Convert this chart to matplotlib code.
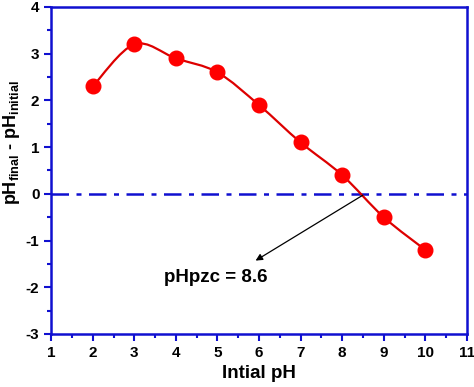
import numpy as np
import matplotlib
matplotlib.use('Agg')
import matplotlib.pyplot as plt
from matplotlib.path import Path
import matplotlib.patches as patches

plt.rcParams['font.family'] = ['Liberation Sans', 'DejaVu Sans']
plt.rcParams['font.weight'] = 'bold'
plt.rcParams['axes.unicode_minus'] = False
plt.rcParams['mathtext.fontset'] = 'custom'
plt.rcParams['mathtext.rm'] = 'Liberation Sans:bold'
plt.rcParams['mathtext.it'] = 'Liberation Sans:bold'
plt.rcParams['mathtext.bf'] = 'Liberation Sans:bold'

ph_initial = [2, 3, 4, 5, 6, 7, 8, 9, 10]
delta_ph = [2.3, 3.2, 2.9, 2.6, 1.9, 1.1, 0.4, -0.5, -1.2]
xticks = [1, 2, 3, 4, 5, 6, 7, 8, 9, 10, 11]
yticks = [-3, -2, -1, 0, 1, 2, 3, 4]

blue = '#1010d0'

fig = plt.figure(figsize=(4.74, 3.87), dpi=100)
ax = fig.add_axes([0.108, 0.137, 0.877, 0.845])

# smooth line through the points (catmull-rom as bezier path)
px = np.array(ph_initial, float)
py = np.array(delta_ph, float)
pts = np.column_stack([px, py])
verts = [pts[0]]
codes = [Path.MOVETO]
n = len(pts)
for i in range(n - 1):
    p0 = pts[i - 1] if i > 0 else pts[i]
    p1 = pts[i]
    p2 = pts[i + 1]
    p3 = pts[i + 2] if i + 2 < n else pts[i + 1]
    c1 = p1 + (p2 - p0) / 6
    c2 = p2 - (p3 - p1) / 6
    verts += [c1, c2, p2]
    codes += [Path.CURVE4] * 3
ax.add_patch(patches.PathPatch(Path(verts, codes), fill=False, edgecolor='#dd0000', lw=1.6, zorder=3))

ax.plot(ph_initial, delta_ph, 'o', color='#ff0000', markersize=10.5, zorder=4)

ax.axhline(0, color=blue, lw=1.8, linestyle=(0, (7, 3, 2, 3)), zorder=2)

ax.annotate('', xy=(5.86, -1.46), xytext=(8.55, 0),
            arrowprops=dict(arrowstyle='-|>', color='black', lw=0.9, mutation_scale=10))
ax.text(3.72, -1.8, 'pHpzc = 8.6', fontsize=13.5, fontweight='bold', va='center', ha='left')

ax.set_xlim(1, 11)
ax.set_ylim(-3, 4)
ax.set_xticks(xticks)
ax.set_yticks(yticks)
ax.set_xticks(np.arange(1.5, 11, 1), minor=True)
ax.set_yticks(np.arange(-2.5, 4, 1), minor=True)

for s in ax.spines.values():
    s.set_color(blue)
    s.set_linewidth(1.8)
ax.tick_params(which='both', direction='out', color=blue, width=1.5)
ax.tick_params(which='major', length=5, labelsize=11)
ax.tick_params(which='minor', length=3)
for lab in ax.get_xticklabels() + ax.get_yticklabels():
    lab.set_fontweight('bold')

ax.set_xlabel('Intial pH', fontsize=13.5, fontweight='bold', labelpad=4)
ax.set_ylabel(r'pH$_{\mathrm{final}}$ - pH$_{\mathrm{initial}}$', fontsize=13, fontweight='bold')
ax.yaxis.set_label_coords(-0.07, 0.585)

fig.savefig('out.png', dpi=100)
